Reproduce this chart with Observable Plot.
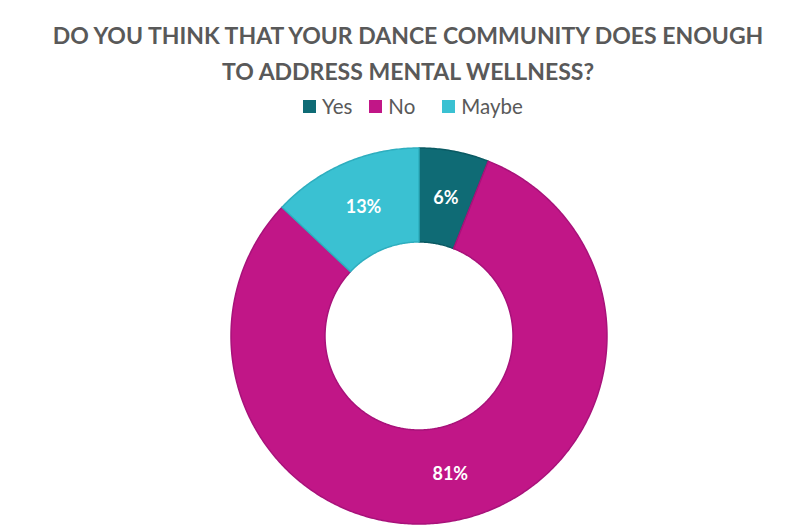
<!DOCTYPE html>
<html>
<head>
<meta charset="utf-8">
<script src="https://cdn.jsdelivr.net/npm/d3@7"></script>
<script src="https://cdn.jsdelivr.net/npm/@observablehq/plot@0.6"></script>
<style>
  html, body { margin: 0; padding: 0; background: #fff; }
  #wrap { width: 796px; height: 531px; overflow: hidden; font-family: Lato, "Open Sans", sans-serif; }
  #title { height: 90px; box-sizing: border-box; padding-top: 17px; padding-left: 20px; text-align: center; color: #595959;
           font-weight: bold; font-size: 23px; line-height: 36px; }
  #legend { height: 32px; box-sizing: border-box; padding-left: 30px; display: flex; justify-content: center; align-items: center; color: #595959; font-size: 20.5px; }
  #legend .item { display: flex; align-items: center; }
  #legend .sw { width: 13px; height: 13px; margin-right: 6px; display: inline-block; }
  svg { display: block; }
</style>
</head>
<body>
<div id="wrap">
  <div id="title">DO YOU THINK THAT YOUR DANCE COMMUNITY DOES ENOUGH<br>TO ADDRESS MENTAL WELLNESS?</div>
  <div id="legend"></div>
  <div id="chart"></div>
</div>
<script>
const categories = ["Yes", "No", "Maybe"];
const values = [6, 81, 13];
const labels = ["6%", "81%", "13%"];
const legendOrder = ["Yes", "No", "Maybe"];
const fills = ["#0F6B75", "#C11687", "#3AC1D2"];
const edges = ["#0A5A63", "#A8127A", "#2EAEBF"];
const legendGaps = [0, 17, 27];

const data = categories.map((c, i) => ({key: c, value: values[i], label: labels[i], fill: fills[i], edge: edges[i]}));

// legend
const leg = document.getElementById("legend");
legendOrder.forEach((c, i) => {
  const d = data.find(e => e.key === c);
  const it = document.createElement("span");
  it.className = "item";
  it.style.marginLeft = legendGaps[i] + "px";
  it.innerHTML = `<span class="sw" style="background:${d.fill}"></span>${c}`;
  leg.appendChild(it);
});

const OUTER = 1, INNER = 0.5;
const arcs = d3.pie().sort(null).value(d => d.value).startAngle(0).endAngle(2 * Math.PI)(data);

// build annular sector ring points from the pie angles
const ringPoints = [];
arcs.forEach(a => {
  const n = Math.max(4, Math.ceil((a.endAngle - a.startAngle) / 0.01));
  for (let k = 0; k <= n; k++) {
    const t = a.startAngle + (a.endAngle - a.startAngle) * k / n;
    ringPoints.push({
      key: a.data.key,
      xo: OUTER * Math.sin(t), yo: OUTER * Math.cos(t),
      xi: INNER * Math.sin(t), yi: INNER * Math.cos(t)
    });
  }
});

const labelPoints = arcs.map(a => {
  const m = (a.startAngle + a.endAngle) / 2;
  const r = (OUTER + INNER) / 2;
  return {key: a.data.key, label: a.data.label, x: r * Math.sin(m), y: r * Math.cos(m)};
});

const W = 796, H = 409;
const marks = arcs.map(a => Plot.area(ringPoints.filter(p => p.key === a.data.key), {
  x1: "xo", y1: "yo", x2: "xi", y2: "yi",
  fill: a.data.fill, stroke: a.data.edge, strokeWidth: 1.5, curve: "linear"
}));
marks.push(Plot.text(labelPoints, {
  x: "x", y: "y", text: "label", fill: "white", fontSize: 18, fontWeight: "bold",
  fontFamily: "Lato, 'Open Sans', sans-serif"
}));

const chart = Plot.plot({
  width: W, height: H,
  marginLeft: 231, marginRight: 189, marginTop: 26, marginBottom: 7,
  x: {domain: [-1, 1], axis: null},
  y: {domain: [-1, 1], axis: null},
  style: {background: "white", overflow: "visible"},
  marks
});
document.getElementById("chart").appendChild(chart);
</script>
</body>
</html>
